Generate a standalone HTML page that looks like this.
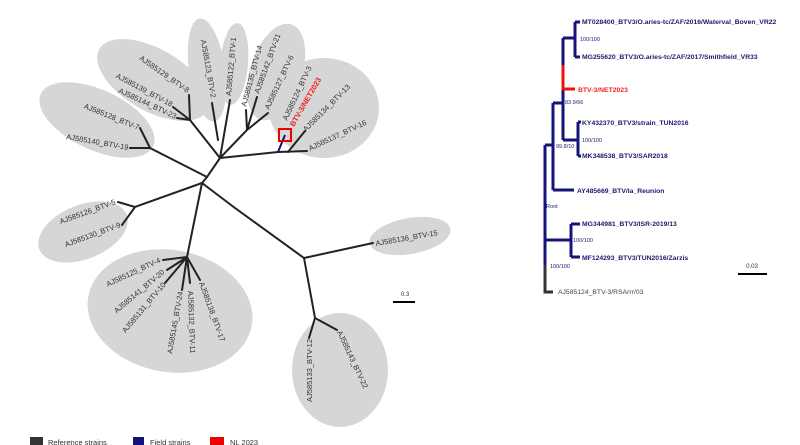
<!DOCTYPE html>
<html><head><meta charset="utf-8"><style>
html,body{margin:0;padding:0;background:#fff}
svg{display:block}
text{font-family:"Liberation Sans",sans-serif}
.l{font-size:7.5px;fill:#333}
.r{font-size:6.8px;fill:#1a1a6e;font-weight:bold}
.b{font-size:6px;fill:#333}
</style></head><body>
<svg width="800" height="445" viewBox="0 0 800 445" xmlns="http://www.w3.org/2000/svg">
<g fill="#d6d6d6">
<ellipse cx="207" cy="70" rx="18" ry="52" transform="rotate(-8 207 70)"/>
<ellipse cx="234" cy="64" rx="14" ry="41" transform="rotate(5 234 64)"/>
<ellipse cx="276" cy="72" rx="26" ry="50" transform="rotate(18 276 72)"/>
<ellipse cx="324" cy="108" rx="55" ry="50"/>
<ellipse cx="153" cy="80" rx="62" ry="31" transform="rotate(30 153 80)"/>
<ellipse cx="97" cy="120" rx="62" ry="30" transform="rotate(25 97 120)"/>
<ellipse cx="83" cy="232" rx="47" ry="27" transform="rotate(-22 83 232)"/>
<ellipse cx="170" cy="311" rx="83" ry="61" transform="rotate(10 170 311)"/>
<ellipse cx="410" cy="236" rx="41" ry="18" transform="rotate(-10 410 236)"/>
<ellipse cx="340" cy="370" rx="48" ry="57"/>
</g>
<g stroke="#222" stroke-width="2" fill="none" stroke-linecap="round">
<path d="M220 158 L278 152 L307 151"/>
<path d="M288 152 L305 131"/>
<path d="M220 158 L247 130 L246 110 M247 130 L257 97 M247 130 L268 113"/>
<path d="M220 158 L230 100"/>
<path d="M218 140 L212 103"/>
<path d="M220 158 L190 120 L189 95 M190 120 L173 107 M190 120 L177 118"/>
<path d="M207 177 L220 158"/>
<path d="M207 177 L150 148 L140 128 M150 148 L130 148"/>
<path d="M207 177 L202 183 L135 207 L118 202 M135 207 L122 225"/>
<path d="M202 183 L187 257 L163 260 M187 257 L167 270 M187 257 L165 283 M187 257 L182 290 M187 257 L190 283 M187 257 L200 280"/>
<path d="M202 183 L235 208 L304 258 L373 243 M304 258 L315 318 L309 338 M315 318 L337 330"/>
</g>
<path d="M278 152 L285 135" stroke="#12127a" stroke-width="2"/>
<rect x="279" y="129" width="12" height="12" fill="none" stroke="#e00" stroke-width="2"/>
<g class="l">
<text transform="translate(310,151) rotate(-25)">AJ585137_BTV-16</text>
<text transform="translate(306,132) rotate(-45)">AJ585134_BTV-13</text>
<text transform="translate(294,127) rotate(-60)" style="fill:#e22;font-weight:bold">BTV-3/NET2023</text>
<text transform="translate(287,121) rotate(-65)">AJ585124_BTV-3</text>
<text transform="translate(269,110) rotate(-65)">AJ585127_BTV-6</text>
<text transform="translate(259,94) rotate(-70)">AJ585142_BTV-21</text>
<text transform="translate(246,107) rotate(-75)">AJ585135_BTV-14</text>
<text transform="translate(231,96) rotate(-85)">AJ585122_BTV-1</text>
<text text-anchor="end" transform="translate(211,98) rotate(80)">AJ585123_BTV-2</text>
<text text-anchor="end" transform="translate(187,93) rotate(35)">AJ585129_BTV-8</text>
<text text-anchor="end" transform="translate(171,107) rotate(28)">AJ585139_BTV-18</text>
<text text-anchor="end" transform="translate(175,119) rotate(25)">AJ585144_BTV-23</text>
<text text-anchor="end" transform="translate(138,130) rotate(22)">AJ585128_BTV-7</text>
<text text-anchor="end" transform="translate(128,150) rotate(10)">AJ585140_BTV-19</text>
<text text-anchor="end" transform="translate(116,204) rotate(-20)">AJ585126_BTV-5</text>
<text text-anchor="end" transform="translate(121,227) rotate(-20)">AJ585130_BTV-9</text>
<text text-anchor="end" transform="translate(161,262) rotate(-25)">AJ585125_BTV-4</text>
<text text-anchor="end" transform="translate(165,273) rotate(-40)">AJ585141_BTV-20</text>
<text text-anchor="end" transform="translate(166,285) rotate(-50)">AJ585131_BTV-10</text>
<text text-anchor="end" transform="translate(183,292) rotate(-80)">AJ585145_BTV-24</text>
<text transform="translate(188,291) rotate(88)">AJ585132_BTV-11</text>
<text transform="translate(199,283) rotate(70)">AJ585138_BTV-17</text>
<text transform="translate(376,246) rotate(-10)">AJ585136_BTV-15</text>
<text text-anchor="end" transform="translate(312,339) rotate(-90)">AJ585133_BTV-12</text>
<text transform="translate(337,332) rotate(65)">AJ585143_BTV-22</text>
</g>
<text x="405" y="296" class="b" text-anchor="middle">0.3</text>
<line x1="393" y1="302" x2="415" y2="302" stroke="#000" stroke-width="2"/>
<rect x="30" y="437" width="13" height="10" fill="#333"/>
<text x="48" y="445" class="l">Reference strains</text>
<rect x="133" y="437" width="11" height="10" fill="#12127a"/>
<text x="150" y="445" class="l">Field strains</text>
<rect x="210" y="437" width="14" height="10" fill="#e00"/>
<text x="230" y="445" class="l">NL 2023</text>
<!-- right tree -->
<g stroke="#14147a" stroke-width="3" fill="none">
<path d="M545 145 V266"/>
<path d="M545 145 H553 M553 103 V190 M553 190 H574"/>
<path d="M553 103 H563 M563 38 V65 M563 90 V140"/>
<path d="M563 38 H575 M575 22 V57 M575 22 H580 M575 57 H580"/>
<path d="M563 140 H578 M578 122 V156 M578 122 H581 M578 156 H581"/>
<path d="M545 240 H571 M571 224 V257 M571 224 H580 M571 257 H580"/>
</g>
<path d="M563 65 V90 M563 89 H575" stroke="#e11" stroke-width="3" fill="none"/>
<path d="M545 265 V292 H553" stroke="#333" stroke-width="3" fill="none"/>
<g class="r">
<text x="582" y="24">MT028400_BTV3/O.aries-tc/ZAF/2016/Waterval_Boven_VR22</text>
<text x="582" y="59">MG255620_BTV3/O.aries-tc/ZAF/2017/Smithfield_VR33</text>
<text x="578" y="92" style="fill:#e22">BTV-3/NET2023</text>
<text x="582" y="125">KY432370_BTV3/strain_TUN2016</text>
<text x="582" y="158">MK348538_BTV3/SAR2018</text>
<text x="577" y="193">AY485669_BTV/la_Reunion</text>
<text x="582" y="226">MG344981_BTV3/ISR-2019/13</text>
<text x="582" y="260">MF124293_BTV3/TUN2016/Zarzis</text>
<text x="558" y="294" style="fill:#444;font-weight:normal">AJ585124_BTV-3/RSArrr/03</text>
</g>
<g class="b" style="fill:#1a1a6e;font-size:5.5px">
<text x="580" y="41">100/100</text>
<text x="565" y="104">83.9/66</text>
<text x="582" y="142">100/100</text>
<text x="556" y="148">99.8/10</text>
<text x="546" y="208">Root</text>
<text x="573" y="242">100/100</text>
<text x="550" y="268">100/100</text>
</g>
<text x="752" y="268" class="b" text-anchor="middle">0.03</text>
<line x1="738" y1="274" x2="767" y2="274" stroke="#000" stroke-width="2"/>
</svg>
</body></html>
